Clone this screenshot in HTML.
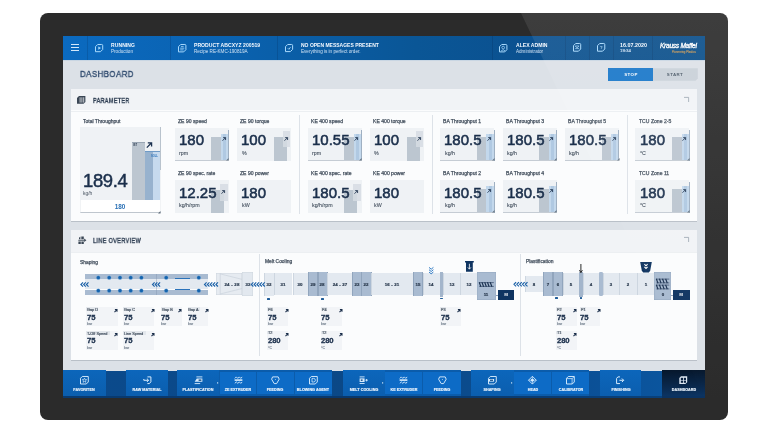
<!DOCTYPE html><html><head><meta charset="utf-8"><title>Dashboard</title><style>
html,body{margin:0;padding:0;background:#fff;width:768px;height:432px;overflow:hidden}
body{position:relative;font-family:"Liberation Sans",sans-serif}
.t{position:absolute;line-height:1;white-space:nowrap;will-change:transform}
.r{position:absolute}
.s{position:absolute;overflow:visible;will-change:transform}
</style></head><body>
<div class="r" style="left:40.00px;top:13.00px;width:688.00px;height:407.00px;background:#2b2b2b;border-radius:8px;"></div>
<div class="r" style="left:63.00px;top:35.60px;width:642.40px;height:362.40px;background:#dce1e7;"></div>
<div class="r" style="left:63.00px;top:35.60px;width:642.40px;height:24.00px;background:linear-gradient(90deg,#0b6ac0 0%,#0a62b0 25%,#0a5696 55%,#0b5190 72%,#0b4f8a 100%);"></div>
<div class="r" style="left:63.00px;top:59.60px;width:642.40px;height:0.80px;background:#c9d6e3;"></div>
<div class="r" style="left:86.60px;top:35.60px;width:0.80px;height:24.00px;background:rgba(0,25,60,0.16);"></div>
<div class="r" style="left:169.60px;top:35.60px;width:0.80px;height:24.00px;background:rgba(0,25,60,0.16);"></div>
<div class="r" style="left:276.80px;top:35.60px;width:0.80px;height:24.00px;background:rgba(0,25,60,0.16);"></div>
<div class="r" style="left:491.60px;top:35.60px;width:0.80px;height:24.00px;background:rgba(0,25,60,0.16);"></div>
<div class="r" style="left:565.40px;top:35.60px;width:0.80px;height:24.00px;background:rgba(0,25,60,0.16);"></div>
<div class="r" style="left:588.80px;top:35.60px;width:0.80px;height:24.00px;background:rgba(0,25,60,0.16);"></div>
<div class="r" style="left:612.70px;top:35.60px;width:0.80px;height:24.00px;background:rgba(0,25,60,0.16);"></div>
<div class="r" style="left:652.40px;top:35.60px;width:0.80px;height:24.00px;background:rgba(0,25,60,0.16);"></div>
<div class="r" style="left:70.70px;top:44.05px;width:8.10px;height:0.90px;background:#d3e8fa;"></div>
<div class="r" style="left:70.70px;top:47.05px;width:8.10px;height:0.90px;background:#d3e8fa;"></div>
<div class="r" style="left:70.70px;top:50.05px;width:8.10px;height:0.90px;background:#d3e8fa;"></div>
<svg class="s" style="left:94.80px;top:43.90px;" width="8.2" height="8.2" viewBox="0 0 8.2 8.2"><path d="M2.7,0.5 H6.699999999999999 Q7.699999999999999,0.5 7.699999999999999,1.5 V5.499999999999999 L5.499999999999999,7.699999999999999 H0.5 V2.7 Z" fill="none" stroke="#a9dafd" stroke-width="1.0" stroke-linejoin="miter"/><path d="M3.3,2.4 L6.0,4.1 L3.3,5.8 Z" fill="#a9dafd"/></svg>
<div class="t" style="left:111.30px;top:43.00px;font-size:5.0px;color:#f4f9ff;font-weight:700;letter-spacing:0.1px;">RUNNING</div>
<div class="t" style="left:111.30px;top:50.00px;font-size:4.6px;color:#cfe2f4;font-weight:400;">Production</div>
<svg class="s" style="left:178.10px;top:43.90px;" width="8.4" height="8.4" viewBox="0 0 8.4 8.4"><path d="M2.7,0.5 H6.9 Q7.9,0.5 7.9,1.5 V5.7 L5.7,7.9 H0.5 V2.7 Z" fill="none" stroke="#a9dafd" stroke-width="1.0" stroke-linejoin="miter"/><path d="M3,2.6 H5.6 M2.2,4.2 H6.3 M2.2,5.9 H5.6" stroke="#a9dafd" stroke-width="0.8"/></svg>
<div class="t" style="left:194.40px;top:43.00px;font-size:5.1px;color:#f4f9ff;font-weight:700;letter-spacing:0.02px;">PRODUCT ABCXYZ 200519</div>
<div class="t" style="left:194.40px;top:50.00px;font-size:4.6px;color:#cfe2f4;font-weight:400;">Recipe RE-KMC-190819A</div>
<svg class="s" style="left:285.10px;top:43.90px;" width="8.1" height="8.1" viewBox="0 0 8.1 8.1"><path d="M2.7,0.5 H6.6 Q7.6,0.5 7.6,1.5 V5.3999999999999995 L5.3999999999999995,7.6 H0.5 V2.7 Z" fill="none" stroke="#a9dafd" stroke-width="1.0" stroke-linejoin="miter"/><path d="M2.9,4.3 L3.9,5.3 L5.5,3.2" stroke="#a9dafd" stroke-width="0.9" fill="none"/></svg>
<div class="t" style="left:301.00px;top:43.00px;font-size:5.0px;color:#f4f9ff;font-weight:700;">NO OPEN MESSAGES PRESENT</div>
<div class="t" style="left:301.00px;top:50.00px;font-size:4.6px;color:#cfe2f4;font-weight:400;">Everything is in perfect order.</div>
<svg class="s" style="left:498.90px;top:43.70px;" width="8.4" height="8.4" viewBox="0 0 8.4 8.4"><path d="M2.7,0.5 H6.9 Q7.9,0.5 7.9,1.5 V5.7 L5.7,7.9 H0.5 V2.7 Z" fill="none" stroke="#a9dafd" stroke-width="1.0" stroke-linejoin="miter"/><circle cx="4.2" cy="3.6" r="1.35" fill="none" stroke="#a9dafd" stroke-width="0.75"/><path d="M2.1,6.9 Q4.2,4.7 6.3,6.9" fill="none" stroke="#a9dafd" stroke-width="0.75"/></svg>
<div class="t" style="left:515.60px;top:43.00px;font-size:5.1px;color:#f4f9ff;font-weight:700;">ALEX ADMIN</div>
<div class="t" style="left:515.60px;top:50.00px;font-size:4.6px;color:#cfe2f4;font-weight:400;">Administrator</div>
<svg class="s" style="left:572.90px;top:43.30px;" width="8.2" height="8.7" viewBox="0 0 8.2 8.7"><path d="M2.7,0.5 H6.699999999999999 Q7.699999999999999,0.5 7.699999999999999,1.5 V5.999999999999999 L5.499999999999999,8.2 H0.5 V2.7 Z" fill="none" stroke="#a9dafd" stroke-width="1.0" stroke-linejoin="miter"/><path d="M2.2,3 L4.1,5 L6,3 M2.2,5.6 H6 M2.2,3 H6" fill="none" stroke="#a9dafd" stroke-width="0.7"/></svg>
<svg class="s" style="left:596.90px;top:43.30px;" width="8.3" height="8.7" viewBox="0 0 8.3 8.7"><path d="M2.7,0.5 H6.800000000000001 Q7.800000000000001,0.5 7.800000000000001,1.5 V5.999999999999999 L5.6000000000000005,8.2 H0.5 V2.7 Z" fill="none" stroke="#a9dafd" stroke-width="1.0" stroke-linejoin="miter"/><text x="4.2" y="6.2" font-size="4.3" fill="#a9dafd" text-anchor="middle" font-family="Liberation Sans" font-weight="700">?</text></svg>
<div class="t" style="left:619.80px;top:43.00px;font-size:5.4px;color:#f4f9ff;font-weight:700;">16.07.2020</div>
<div class="t" style="left:619.80px;top:49.00px;font-size:4.4px;color:#cfe2f4;font-weight:400;-webkit-text-stroke:0.1px #cfe2f4;">19:34</div>
<div class="t" style="left:660.40px;top:43.00px;font-size:6.6px;color:#ffffff;font-weight:400;font-style:italic;letter-spacing:-0.28px;-webkit-text-stroke:0.3px #ffffff;">Krauss Maffei</div>
<div class="t" style="left:672.30px;top:51.00px;font-size:2.8px;color:#b8925a;font-weight:400;-webkit-text-stroke:0.15px #b8925a;">Pioneering Plastics</div>
<div class="t" style="left:80.00px;top:70.00px;font-size:8.9px;color:#2f4a6e;font-weight:400;transform:scaleX(0.9) ;transform-origin:0 0;letter-spacing:0.4px;-webkit-text-stroke:0.35px #2f4a6e;">DASHBOARD</div>
<div class="r" style="left:608.30px;top:68.20px;width:44.70px;height:12.50px;background:#1977c9;"></div>
<div class="t" style="left:630.60px;top:73.00px;font-size:4.4px;color:#ffffff;font-weight:700;transform:translateX(-50%);transform-origin:0 0;letter-spacing:0.4px;">STOP</div>
<div class="r" style="left:653px;top:68.2px;width:44.8px;height:12.5px;background:#c9d0d8;clip-path:polygon(0 0,100% 0,100% 82%,calc(100% - 2.2px) 100%,0 100%);"></div>
<div class="t" style="left:675.40px;top:73.00px;font-size:4.4px;color:#4a5866;font-weight:700;transform:translateX(-50%);transform-origin:0 0;letter-spacing:0.4px;">START</div>
<div class="r" style="left:70.90px;top:89.10px;width:626.10px;height:131.90px;background:#fbfcfd;"></div>
<div class="r" style="left:70.90px;top:220.60px;width:626.10px;height:1.00px;background:#b9c0c8;"></div>
<div class="r" style="left:70.90px;top:89.10px;width:626.10px;height:21.40px;background:#f1f3f6;"></div>
<div class="r" style="left:70.90px;top:110.50px;width:626.10px;height:0.60px;background:#eceff2;"></div>
<div class="t" style="left:92.80px;top:98.00px;font-size:6.6px;color:#2b3b50;font-weight:400;transform:scaleX(0.84) ;transform-origin:0 0;letter-spacing:0.35px;-webkit-text-stroke:0.35px #2b3b50;">PARAMETER</div>
<svg class="s" style="left:77.40px;top:96.00px;" width="8.4" height="7.8" viewBox="0 0 8.4 7.8"><path d="M2,0 H8.4 V5.9 L6.5,7.8 H0 V2 Z" fill="#3a4655"/><path d="M3.1,1.3 V6.6 M4.9,1.3 V6.6 M6.7,1.3 V6.6" stroke="#f4f6f8" stroke-width="0.75"/></svg>
<svg class="s" style="left:684.00px;top:97.40px;" width="5" height="5" viewBox="0 0 5 5"><path d="M0,0.4 H4.6 V5" fill="none" stroke="#8a96a3" stroke-width="0.7"/></svg>
<div class="r" style="left:299.25px;top:115.00px;width:0.70px;height:98.50px;background:#dde2e8;"></div>
<div class="r" style="left:432.05px;top:115.00px;width:0.70px;height:98.50px;background:#dde2e8;"></div>
<div class="r" style="left:626.55px;top:115.00px;width:0.70px;height:98.50px;background:#dde2e8;"></div>
<div class="t" style="left:83.20px;top:119.00px;font-size:5.0px;color:#434f5d;font-weight:400;-webkit-text-stroke:0.25px #434f5d;">Total Throughput</div>
<div class="r" style="left:79.60px;top:127.20px;width:81.10px;height:72.80px;background:#eff2f5;"></div>
<div class="r" style="left:79.60px;top:200.00px;width:81.10px;height:13.40px;background:#ffffff;box-shadow:inset 0.5px 0 0 #e3e7ec,inset -0.5px 0 0 #e3e7ec,inset 0 -0.9px 0 #bfc6ce;"></div>
<div class="r" style="left:131.60px;top:141.60px;width:13.30px;height:58.40px;background:#bcc6d0;border-top:0.7px solid #98a5b3;box-sizing:border-box;"></div>
<div class="r" style="left:144.90px;top:151.70px;width:8.50px;height:48.30px;background:#97b2ce;"></div>
<div class="r" style="left:153.40px;top:151.70px;width:7.00px;height:48.30px;background:#c6daee;"></div>
<div class="r" style="left:144.90px;top:151.40px;width:15.80px;height:0.70px;background:#6e9ac6;"></div>
<div class="r" style="left:160.20px;top:127.20px;width:0.60px;height:42.80px;background:#b9c3cd;"></div>
<div class="t" style="left:133.00px;top:145.00px;font-size:2.6px;color:#2b3b50;font-weight:700;">IST</div>
<div class="t" style="left:151.20px;top:156.00px;font-size:2.6px;color:#2f75bb;font-weight:700;">SOLL</div>
<svg class="s" style="left:146.40px;top:141.90px;" width="6.6" height="6.3" viewBox="0 0 6.6 6.3"><path d="M0.8,5.6 L5.6,0.8 M1.8,0.8 H5.6 V4.6" fill="none" stroke="#1b3150" stroke-width="1.3"/></svg>
<div class="t" style="left:82.70px;top:172.00px;font-size:18.4px;color:#1b2f4b;font-weight:400;letter-spacing:-0.3px;-webkit-text-stroke:0.5px #1b2f4b;">189.4</div>
<div class="t" style="left:82.90px;top:192.00px;font-size:4.9px;color:#434f5d;font-weight:400;">kg/h</div>
<div class="t" style="left:120.30px;top:204.00px;font-size:6.4px;color:#2a70b5;font-weight:700;transform:translateX(-50%);transform-origin:0 0;">180</div>
<svg class="s" style="left:158.20px;top:210.80px;" width="2.5" height="2.5" viewBox="0 0 2.5 2.5"><path d="M2.5,0 V2.5 H0 Z" fill="#5d6a78"/></svg>
<div class="t" style="left:177.90px;top:119.00px;font-size:5.1px;color:#434f5d;font-weight:400;-webkit-text-stroke:0.25px #434f5d;">ZE 90 speed</div>
<div class="r" style="left:174.60px;top:127.60px;width:54.20px;height:33.10px;background:#eff2f5;"></div>
<div class="r" style="left:211.30px;top:137.10px;width:9.50px;height:23.60px;background:#bcc6d0;"></div>
<div class="r" style="left:220.80px;top:133.80px;width:7.30px;height:26.90px;background:#c3d8ec;"></div>
<div class="r" style="left:223.10px;top:133.80px;width:3.00px;height:26.90px;background:rgba(140,175,210,0.35);"></div>
<div class="r" style="left:228.10px;top:129.60px;width:0.70px;height:31.10px;background:#9fb0c2;"></div>
<div class="r" style="left:174.60px;top:159.90px;width:54.20px;height:0.80px;background:#c5ccd4;"></div>
<svg class="s" style="left:226.20px;top:158.10px;" width="2.6" height="2.6" viewBox="0 0 2.6 2.6"><path d="M2.6,0 V2.6 H0 Z" fill="#6a7886"/></svg>
<svg class="s" style="left:221.50px;top:136.90px;" width="4.2" height="4.2" viewBox="0 0 4.2 4.2"><path d="M0.5,3.70 L3.50,0.7 M1.16,0.6 H3.60 V3.04" fill="none" stroke="#1b2f4b" stroke-width="0.85" stroke-linejoin="miter"/></svg>
<div class="t" style="left:178.90px;top:132.00px;font-size:15px;color:#1b2f4b;font-weight:400;-webkit-text-stroke:0.55px #1b2f4b;">180</div>
<div class="t" style="left:179.00px;top:151.00px;font-size:5.3px;color:#434f5d;font-weight:400;-webkit-text-stroke:0.1px #434f5d;">rpm</div>
<div class="t" style="left:240.40px;top:119.00px;font-size:5.1px;color:#434f5d;font-weight:400;-webkit-text-stroke:0.25px #434f5d;">ZE 90 torque</div>
<div class="r" style="left:237.10px;top:127.60px;width:54.20px;height:33.10px;background:#eff2f5;"></div>
<div class="r" style="left:274.10px;top:137.10px;width:12.70px;height:23.60px;background:#bcc6d0;"></div>
<div class="r" style="left:283.30px;top:131.20px;width:7.00px;height:16.30px;background:rgba(214,220,227,0.85);"></div>
<svg class="s" style="left:284.00px;top:136.90px;" width="4.2" height="4.2" viewBox="0 0 4.2 4.2"><path d="M0.5,3.70 L3.50,0.7 M1.16,0.6 H3.60 V3.04" fill="none" stroke="#1b2f4b" stroke-width="0.85" stroke-linejoin="miter"/></svg>
<div class="t" style="left:241.40px;top:132.00px;font-size:15px;color:#1b2f4b;font-weight:400;-webkit-text-stroke:0.55px #1b2f4b;">100</div>
<div class="t" style="left:241.50px;top:151.00px;font-size:5.3px;color:#434f5d;font-weight:400;-webkit-text-stroke:0.1px #434f5d;">%</div>
<div class="t" style="left:177.90px;top:171.00px;font-size:5.1px;color:#434f5d;font-weight:400;-webkit-text-stroke:0.25px #434f5d;">ZE 90 spec. rate</div>
<div class="r" style="left:174.60px;top:179.90px;width:54.20px;height:33.10px;background:#eff2f5;"></div>
<div class="r" style="left:210.80px;top:190.20px;width:13.20px;height:22.80px;background:#bcc6d0;"></div>
<div class="r" style="left:220.10px;top:183.90px;width:7.70px;height:16.70px;background:rgba(214,220,227,0.85);"></div>
<svg class="s" style="left:221.10px;top:190.00px;" width="4.2" height="4.2" viewBox="0 0 4.2 4.2"><path d="M0.5,3.70 L3.50,0.7 M1.16,0.6 H3.60 V3.04" fill="none" stroke="#1b2f4b" stroke-width="0.85" stroke-linejoin="miter"/></svg>
<div class="t" style="left:178.90px;top:185.00px;font-size:15px;color:#1b2f4b;font-weight:400;-webkit-text-stroke:0.55px #1b2f4b;">12.25</div>
<div class="t" style="left:179.00px;top:203.00px;font-size:5.3px;color:#434f5d;font-weight:400;-webkit-text-stroke:0.1px #434f5d;">kg/h/rpm</div>
<div class="t" style="left:240.40px;top:171.00px;font-size:5.1px;color:#434f5d;font-weight:400;-webkit-text-stroke:0.25px #434f5d;">ZE 90 power</div>
<div class="r" style="left:237.10px;top:179.90px;width:54.20px;height:33.10px;background:#eff2f5;"></div>
<div class="t" style="left:241.40px;top:185.00px;font-size:15px;color:#1b2f4b;font-weight:400;-webkit-text-stroke:0.55px #1b2f4b;">180</div>
<div class="t" style="left:241.50px;top:203.00px;font-size:5.3px;color:#434f5d;font-weight:400;-webkit-text-stroke:0.1px #434f5d;">kW</div>
<div class="t" style="left:310.80px;top:119.00px;font-size:5.1px;color:#434f5d;font-weight:400;-webkit-text-stroke:0.25px #434f5d;">KE 400 speed</div>
<div class="r" style="left:307.50px;top:127.60px;width:54.20px;height:33.10px;background:#eff2f5;"></div>
<div class="r" style="left:344.20px;top:137.10px;width:9.50px;height:23.60px;background:#bcc6d0;"></div>
<div class="r" style="left:353.70px;top:133.80px;width:7.30px;height:26.90px;background:#c3d8ec;"></div>
<div class="r" style="left:356.00px;top:133.80px;width:3.00px;height:26.90px;background:rgba(140,175,210,0.35);"></div>
<div class="r" style="left:361.00px;top:129.60px;width:0.70px;height:31.10px;background:#9fb0c2;"></div>
<div class="r" style="left:307.50px;top:159.90px;width:54.20px;height:0.80px;background:#c5ccd4;"></div>
<svg class="s" style="left:359.10px;top:158.10px;" width="2.6" height="2.6" viewBox="0 0 2.6 2.6"><path d="M2.6,0 V2.6 H0 Z" fill="#6a7886"/></svg>
<svg class="s" style="left:354.40px;top:136.90px;" width="4.2" height="4.2" viewBox="0 0 4.2 4.2"><path d="M0.5,3.70 L3.50,0.7 M1.16,0.6 H3.60 V3.04" fill="none" stroke="#1b2f4b" stroke-width="0.85" stroke-linejoin="miter"/></svg>
<div class="t" style="left:311.80px;top:132.00px;font-size:15px;color:#1b2f4b;font-weight:400;-webkit-text-stroke:0.55px #1b2f4b;">10.55</div>
<div class="t" style="left:311.90px;top:151.00px;font-size:5.3px;color:#434f5d;font-weight:400;-webkit-text-stroke:0.1px #434f5d;">rpm</div>
<div class="t" style="left:373.20px;top:119.00px;font-size:5.1px;color:#434f5d;font-weight:400;-webkit-text-stroke:0.25px #434f5d;">KE 400 torque</div>
<div class="r" style="left:369.90px;top:127.60px;width:54.20px;height:33.10px;background:#eff2f5;"></div>
<div class="r" style="left:406.90px;top:137.10px;width:12.70px;height:23.60px;background:#bcc6d0;"></div>
<div class="r" style="left:416.10px;top:131.20px;width:7.00px;height:16.30px;background:rgba(214,220,227,0.85);"></div>
<svg class="s" style="left:416.80px;top:136.90px;" width="4.2" height="4.2" viewBox="0 0 4.2 4.2"><path d="M0.5,3.70 L3.50,0.7 M1.16,0.6 H3.60 V3.04" fill="none" stroke="#1b2f4b" stroke-width="0.85" stroke-linejoin="miter"/></svg>
<div class="t" style="left:374.20px;top:132.00px;font-size:15px;color:#1b2f4b;font-weight:400;-webkit-text-stroke:0.55px #1b2f4b;">100</div>
<div class="t" style="left:374.30px;top:151.00px;font-size:5.3px;color:#434f5d;font-weight:400;-webkit-text-stroke:0.1px #434f5d;">%</div>
<div class="t" style="left:310.80px;top:171.00px;font-size:5.1px;color:#434f5d;font-weight:400;-webkit-text-stroke:0.25px #434f5d;">KE 400 spec. rate</div>
<div class="r" style="left:307.50px;top:179.90px;width:54.20px;height:33.10px;background:#eff2f5;"></div>
<div class="r" style="left:343.70px;top:190.20px;width:13.20px;height:22.80px;background:#bcc6d0;"></div>
<div class="r" style="left:353.00px;top:183.90px;width:7.70px;height:16.70px;background:rgba(214,220,227,0.85);"></div>
<svg class="s" style="left:354.00px;top:190.00px;" width="4.2" height="4.2" viewBox="0 0 4.2 4.2"><path d="M0.5,3.70 L3.50,0.7 M1.16,0.6 H3.60 V3.04" fill="none" stroke="#1b2f4b" stroke-width="0.85" stroke-linejoin="miter"/></svg>
<div class="t" style="left:311.80px;top:185.00px;font-size:15px;color:#1b2f4b;font-weight:400;-webkit-text-stroke:0.55px #1b2f4b;">180.5</div>
<div class="t" style="left:311.90px;top:203.00px;font-size:5.3px;color:#434f5d;font-weight:400;-webkit-text-stroke:0.1px #434f5d;">kg/h/rpm</div>
<div class="t" style="left:373.20px;top:171.00px;font-size:5.1px;color:#434f5d;font-weight:400;-webkit-text-stroke:0.25px #434f5d;">KE 400 power</div>
<div class="r" style="left:369.90px;top:179.90px;width:54.20px;height:33.10px;background:#eff2f5;"></div>
<div class="t" style="left:374.20px;top:185.00px;font-size:15px;color:#1b2f4b;font-weight:400;-webkit-text-stroke:0.55px #1b2f4b;">180</div>
<div class="t" style="left:374.30px;top:203.00px;font-size:5.3px;color:#434f5d;font-weight:400;-webkit-text-stroke:0.1px #434f5d;">kW</div>
<div class="t" style="left:443.40px;top:119.00px;font-size:5.1px;color:#434f5d;font-weight:400;-webkit-text-stroke:0.25px #434f5d;">BA Throughput 1</div>
<div class="r" style="left:440.10px;top:127.60px;width:54.20px;height:33.10px;background:#eff2f5;"></div>
<div class="r" style="left:476.80px;top:137.10px;width:9.50px;height:23.60px;background:#bcc6d0;"></div>
<div class="r" style="left:486.30px;top:133.80px;width:7.30px;height:26.90px;background:#c3d8ec;"></div>
<div class="r" style="left:488.60px;top:133.80px;width:3.00px;height:26.90px;background:rgba(140,175,210,0.35);"></div>
<div class="r" style="left:493.60px;top:129.60px;width:0.70px;height:31.10px;background:#9fb0c2;"></div>
<div class="r" style="left:440.10px;top:159.90px;width:54.20px;height:0.80px;background:#c5ccd4;"></div>
<svg class="s" style="left:491.70px;top:158.10px;" width="2.6" height="2.6" viewBox="0 0 2.6 2.6"><path d="M2.6,0 V2.6 H0 Z" fill="#6a7886"/></svg>
<svg class="s" style="left:487.00px;top:136.90px;" width="4.2" height="4.2" viewBox="0 0 4.2 4.2"><path d="M0.5,3.70 L3.50,0.7 M1.16,0.6 H3.60 V3.04" fill="none" stroke="#1b2f4b" stroke-width="0.85" stroke-linejoin="miter"/></svg>
<div class="t" style="left:444.40px;top:132.00px;font-size:15px;color:#1b2f4b;font-weight:400;-webkit-text-stroke:0.55px #1b2f4b;">180.5</div>
<div class="t" style="left:444.50px;top:151.00px;font-size:5.3px;color:#434f5d;font-weight:400;-webkit-text-stroke:0.1px #434f5d;">kg/h</div>
<div class="t" style="left:505.80px;top:119.00px;font-size:5.1px;color:#434f5d;font-weight:400;-webkit-text-stroke:0.25px #434f5d;">BA Throughput 3</div>
<div class="r" style="left:502.50px;top:127.60px;width:54.20px;height:33.10px;background:#eff2f5;"></div>
<div class="r" style="left:539.20px;top:137.10px;width:9.50px;height:23.60px;background:#bcc6d0;"></div>
<div class="r" style="left:548.70px;top:133.80px;width:7.30px;height:26.90px;background:#c3d8ec;"></div>
<div class="r" style="left:551.00px;top:133.80px;width:3.00px;height:26.90px;background:rgba(140,175,210,0.35);"></div>
<div class="r" style="left:556.00px;top:129.60px;width:0.70px;height:31.10px;background:#9fb0c2;"></div>
<div class="r" style="left:502.50px;top:159.90px;width:54.20px;height:0.80px;background:#c5ccd4;"></div>
<svg class="s" style="left:554.10px;top:158.10px;" width="2.6" height="2.6" viewBox="0 0 2.6 2.6"><path d="M2.6,0 V2.6 H0 Z" fill="#6a7886"/></svg>
<svg class="s" style="left:549.40px;top:136.90px;" width="4.2" height="4.2" viewBox="0 0 4.2 4.2"><path d="M0.5,3.70 L3.50,0.7 M1.16,0.6 H3.60 V3.04" fill="none" stroke="#1b2f4b" stroke-width="0.85" stroke-linejoin="miter"/></svg>
<div class="t" style="left:506.80px;top:132.00px;font-size:15px;color:#1b2f4b;font-weight:400;-webkit-text-stroke:0.55px #1b2f4b;">180.5</div>
<div class="t" style="left:506.90px;top:151.00px;font-size:5.3px;color:#434f5d;font-weight:400;-webkit-text-stroke:0.1px #434f5d;">kg/h</div>
<div class="t" style="left:568.20px;top:119.00px;font-size:5.1px;color:#434f5d;font-weight:400;-webkit-text-stroke:0.25px #434f5d;">BA Throughput 5</div>
<div class="r" style="left:564.90px;top:127.60px;width:54.20px;height:33.10px;background:#eff2f5;"></div>
<div class="r" style="left:601.60px;top:137.10px;width:9.50px;height:23.60px;background:#bcc6d0;"></div>
<div class="r" style="left:611.10px;top:133.80px;width:7.30px;height:26.90px;background:#c3d8ec;"></div>
<div class="r" style="left:613.40px;top:133.80px;width:3.00px;height:26.90px;background:rgba(140,175,210,0.35);"></div>
<div class="r" style="left:618.40px;top:129.60px;width:0.70px;height:31.10px;background:#9fb0c2;"></div>
<div class="r" style="left:564.90px;top:159.90px;width:54.20px;height:0.80px;background:#c5ccd4;"></div>
<svg class="s" style="left:616.50px;top:158.10px;" width="2.6" height="2.6" viewBox="0 0 2.6 2.6"><path d="M2.6,0 V2.6 H0 Z" fill="#6a7886"/></svg>
<svg class="s" style="left:611.80px;top:136.90px;" width="4.2" height="4.2" viewBox="0 0 4.2 4.2"><path d="M0.5,3.70 L3.50,0.7 M1.16,0.6 H3.60 V3.04" fill="none" stroke="#1b2f4b" stroke-width="0.85" stroke-linejoin="miter"/></svg>
<div class="t" style="left:569.20px;top:132.00px;font-size:15px;color:#1b2f4b;font-weight:400;-webkit-text-stroke:0.55px #1b2f4b;">180.5</div>
<div class="t" style="left:569.30px;top:151.00px;font-size:5.3px;color:#434f5d;font-weight:400;-webkit-text-stroke:0.1px #434f5d;">kg/h</div>
<div class="t" style="left:443.40px;top:171.00px;font-size:5.1px;color:#434f5d;font-weight:400;-webkit-text-stroke:0.25px #434f5d;">BA Throughput 2</div>
<div class="r" style="left:440.10px;top:179.90px;width:54.20px;height:33.10px;background:#eff2f5;"></div>
<div class="r" style="left:476.80px;top:189.40px;width:9.50px;height:23.60px;background:#bcc6d0;"></div>
<div class="r" style="left:486.30px;top:186.10px;width:7.30px;height:26.90px;background:#c3d8ec;"></div>
<div class="r" style="left:488.60px;top:186.10px;width:3.00px;height:26.90px;background:rgba(140,175,210,0.35);"></div>
<div class="r" style="left:493.60px;top:181.90px;width:0.70px;height:31.10px;background:#9fb0c2;"></div>
<div class="r" style="left:440.10px;top:212.20px;width:54.20px;height:0.80px;background:#c5ccd4;"></div>
<svg class="s" style="left:491.70px;top:210.40px;" width="2.6" height="2.6" viewBox="0 0 2.6 2.6"><path d="M2.6,0 V2.6 H0 Z" fill="#6a7886"/></svg>
<svg class="s" style="left:487.00px;top:189.20px;" width="4.2" height="4.2" viewBox="0 0 4.2 4.2"><path d="M0.5,3.70 L3.50,0.7 M1.16,0.6 H3.60 V3.04" fill="none" stroke="#1b2f4b" stroke-width="0.85" stroke-linejoin="miter"/></svg>
<div class="t" style="left:444.40px;top:185.00px;font-size:15px;color:#1b2f4b;font-weight:400;-webkit-text-stroke:0.55px #1b2f4b;">180.5</div>
<div class="t" style="left:444.50px;top:203.00px;font-size:5.3px;color:#434f5d;font-weight:400;-webkit-text-stroke:0.1px #434f5d;">kg/h</div>
<div class="t" style="left:505.80px;top:171.00px;font-size:5.1px;color:#434f5d;font-weight:400;-webkit-text-stroke:0.25px #434f5d;">BA Throughput 4</div>
<div class="r" style="left:502.50px;top:179.90px;width:54.20px;height:33.10px;background:#eff2f5;"></div>
<div class="r" style="left:539.20px;top:189.40px;width:9.50px;height:23.60px;background:#bcc6d0;"></div>
<div class="r" style="left:548.70px;top:186.10px;width:7.30px;height:26.90px;background:#c3d8ec;"></div>
<div class="r" style="left:551.00px;top:186.10px;width:3.00px;height:26.90px;background:rgba(140,175,210,0.35);"></div>
<div class="r" style="left:556.00px;top:181.90px;width:0.70px;height:31.10px;background:#9fb0c2;"></div>
<div class="r" style="left:502.50px;top:212.20px;width:54.20px;height:0.80px;background:#c5ccd4;"></div>
<svg class="s" style="left:554.10px;top:210.40px;" width="2.6" height="2.6" viewBox="0 0 2.6 2.6"><path d="M2.6,0 V2.6 H0 Z" fill="#6a7886"/></svg>
<svg class="s" style="left:549.40px;top:189.20px;" width="4.2" height="4.2" viewBox="0 0 4.2 4.2"><path d="M0.5,3.70 L3.50,0.7 M1.16,0.6 H3.60 V3.04" fill="none" stroke="#1b2f4b" stroke-width="0.85" stroke-linejoin="miter"/></svg>
<div class="t" style="left:506.80px;top:185.00px;font-size:15px;color:#1b2f4b;font-weight:400;-webkit-text-stroke:0.55px #1b2f4b;">180.5</div>
<div class="t" style="left:506.90px;top:203.00px;font-size:5.3px;color:#434f5d;font-weight:400;-webkit-text-stroke:0.1px #434f5d;">kg/h</div>
<div class="t" style="left:638.60px;top:119.00px;font-size:5.1px;color:#434f5d;font-weight:400;-webkit-text-stroke:0.25px #434f5d;">TCU Zone 2-5</div>
<div class="r" style="left:635.30px;top:127.60px;width:54.20px;height:33.10px;background:#eff2f5;"></div>
<div class="r" style="left:672.00px;top:137.10px;width:9.50px;height:23.60px;background:#bcc6d0;"></div>
<div class="r" style="left:681.50px;top:133.80px;width:7.30px;height:26.90px;background:#c3d8ec;"></div>
<div class="r" style="left:683.80px;top:133.80px;width:3.00px;height:26.90px;background:rgba(140,175,210,0.35);"></div>
<div class="r" style="left:688.80px;top:129.60px;width:0.70px;height:31.10px;background:#9fb0c2;"></div>
<div class="r" style="left:635.30px;top:159.90px;width:54.20px;height:0.80px;background:#c5ccd4;"></div>
<svg class="s" style="left:686.90px;top:158.10px;" width="2.6" height="2.6" viewBox="0 0 2.6 2.6"><path d="M2.6,0 V2.6 H0 Z" fill="#6a7886"/></svg>
<svg class="s" style="left:682.20px;top:136.90px;" width="4.2" height="4.2" viewBox="0 0 4.2 4.2"><path d="M0.5,3.70 L3.50,0.7 M1.16,0.6 H3.60 V3.04" fill="none" stroke="#1b2f4b" stroke-width="0.85" stroke-linejoin="miter"/></svg>
<div class="t" style="left:639.60px;top:132.00px;font-size:15px;color:#1b2f4b;font-weight:400;-webkit-text-stroke:0.55px #1b2f4b;">180</div>
<div class="t" style="left:639.70px;top:151.00px;font-size:5.3px;color:#434f5d;font-weight:400;-webkit-text-stroke:0.1px #434f5d;">°C</div>
<div class="t" style="left:638.60px;top:171.00px;font-size:5.1px;color:#434f5d;font-weight:400;-webkit-text-stroke:0.25px #434f5d;">TCU Zone 11</div>
<div class="r" style="left:635.30px;top:179.90px;width:54.20px;height:33.10px;background:#eff2f5;"></div>
<div class="r" style="left:672.00px;top:189.40px;width:9.50px;height:23.60px;background:#bcc6d0;"></div>
<div class="r" style="left:681.50px;top:186.10px;width:7.30px;height:26.90px;background:#c3d8ec;"></div>
<div class="r" style="left:683.80px;top:186.10px;width:3.00px;height:26.90px;background:rgba(140,175,210,0.35);"></div>
<div class="r" style="left:688.80px;top:181.90px;width:0.70px;height:31.10px;background:#9fb0c2;"></div>
<div class="r" style="left:635.30px;top:212.20px;width:54.20px;height:0.80px;background:#c5ccd4;"></div>
<svg class="s" style="left:686.90px;top:210.40px;" width="2.6" height="2.6" viewBox="0 0 2.6 2.6"><path d="M2.6,0 V2.6 H0 Z" fill="#6a7886"/></svg>
<svg class="s" style="left:682.20px;top:189.20px;" width="4.2" height="4.2" viewBox="0 0 4.2 4.2"><path d="M0.5,3.70 L3.50,0.7 M1.16,0.6 H3.60 V3.04" fill="none" stroke="#1b2f4b" stroke-width="0.85" stroke-linejoin="miter"/></svg>
<div class="t" style="left:639.60px;top:185.00px;font-size:15px;color:#1b2f4b;font-weight:400;-webkit-text-stroke:0.55px #1b2f4b;">180</div>
<div class="t" style="left:639.70px;top:203.00px;font-size:5.3px;color:#434f5d;font-weight:400;-webkit-text-stroke:0.1px #434f5d;">°C</div>
<div class="r" style="left:70.90px;top:229.50px;width:626.10px;height:131.30px;background:#fbfcfd;"></div>
<div class="r" style="left:70.90px;top:360.40px;width:626.10px;height:1.00px;background:#b9c0c8;"></div>
<div class="r" style="left:70.90px;top:229.50px;width:626.10px;height:22.00px;background:#f1f3f6;"></div>
<div class="r" style="left:70.90px;top:251.50px;width:626.10px;height:0.60px;background:#eceff2;"></div>
<div class="t" style="left:92.80px;top:238.00px;font-size:6.7px;color:#2b3b50;font-weight:400;transform:scaleX(0.84) ;transform-origin:0 0;letter-spacing:0.35px;-webkit-text-stroke:0.35px #2b3b50;">LINE OVERVIEW</div>
<svg class="s" style="left:77.60px;top:236.10px;" width="8.6" height="8.2" viewBox="0 0 8.6 8.2"><path d="M1,3.2 V1.8 L2.4,0.6 V3.2 Z M3.3,3.2 V0.4 H5.8 V3.2 Z" fill="#3a4655"/><path d="M0.3,4.3 H6.6" stroke="#3a4655" stroke-width="0.9"/><path d="M6.2,2.6 L8.4,4.3 L6.2,6 Z" fill="#3a4655"/><path d="M0.4,5.4 H2.8 V8 H0.4 Z M3.4,5.4 H5.8 V8 H3.4 Z" fill="#3a4655"/></svg>
<svg class="s" style="left:684.00px;top:237.40px;" width="5" height="5" viewBox="0 0 5 5"><path d="M0,0.4 H4.6 V5" fill="none" stroke="#8a96a3" stroke-width="0.7"/></svg>
<div class="r" style="left:259.15px;top:253.50px;width:0.70px;height:102.50px;background:#dde2e8;"></div>
<div class="r" style="left:520.05px;top:253.50px;width:0.70px;height:102.50px;background:#dde2e8;"></div>
<div class="t" style="left:79.70px;top:261.00px;font-size:4.9px;color:#434f5d;font-weight:400;-webkit-text-stroke:0.25px #434f5d;">Shaping</div>
<div class="t" style="left:265.00px;top:260.00px;font-size:4.9px;color:#434f5d;font-weight:400;-webkit-text-stroke:0.25px #434f5d;">Melt Cooling</div>
<div class="t" style="left:526.00px;top:260.00px;font-size:4.9px;color:#434f5d;font-weight:400;-webkit-text-stroke:0.25px #434f5d;">Plastification</div>
<div class="r" style="left:84.70px;top:273.60px;width:123.10px;height:5.20px;background:#a9bbd1;"></div>
<div class="r" style="left:84.70px;top:278.80px;width:123.10px;height:10.70px;background:#e3e9f0;"></div>
<div class="r" style="left:84.70px;top:289.50px;width:123.10px;height:5.20px;background:#a9bbd1;"></div>
<div class="r" style="left:155.70px;top:273.60px;width:0.60px;height:21.10px;background:rgba(120,140,165,0.35);"></div>
<svg class="s" style="left:0.00px;top:0.00px;" width="1" height="1" viewBox="0 0 1 1"><circle cx="98.3" cy="277.7" r="1.9" fill="#1463ad" stroke="rgba(120,180,235,0.5)" stroke-width="0.5"/><circle cx="98.3" cy="290.7" r="1.9" fill="#1463ad" stroke="rgba(120,180,235,0.5)" stroke-width="0.5"/><circle cx="109.2" cy="277.7" r="1.9" fill="#1463ad" stroke="rgba(120,180,235,0.5)" stroke-width="0.5"/><circle cx="109.2" cy="290.7" r="1.9" fill="#1463ad" stroke="rgba(120,180,235,0.5)" stroke-width="0.5"/><circle cx="120" cy="277.7" r="1.9" fill="#1463ad" stroke="rgba(120,180,235,0.5)" stroke-width="0.5"/><circle cx="120" cy="290.7" r="1.9" fill="#1463ad" stroke="rgba(120,180,235,0.5)" stroke-width="0.5"/><circle cx="130.7" cy="277.7" r="1.9" fill="#1463ad" stroke="rgba(120,180,235,0.5)" stroke-width="0.5"/><circle cx="130.7" cy="290.7" r="1.9" fill="#1463ad" stroke="rgba(120,180,235,0.5)" stroke-width="0.5"/><circle cx="141.4" cy="277.7" r="1.9" fill="#1463ad" stroke="rgba(120,180,235,0.5)" stroke-width="0.5"/><circle cx="141.4" cy="290.7" r="1.9" fill="#1463ad" stroke="rgba(120,180,235,0.5)" stroke-width="0.5"/><circle cx="166.2" cy="277.7" r="1.9" fill="#1463ad" stroke="rgba(120,180,235,0.5)" stroke-width="0.5"/><circle cx="166.2" cy="290.7" r="1.9" fill="#1463ad" stroke="rgba(120,180,235,0.5)" stroke-width="0.5"/><circle cx="198.8" cy="277.7" r="1.9" fill="#1463ad" stroke="rgba(120,180,235,0.5)" stroke-width="0.5"/><circle cx="198.8" cy="290.7" r="1.9" fill="#1463ad" stroke="rgba(120,180,235,0.5)" stroke-width="0.5"/></svg>
<div class="r" style="left:175.00px;top:278.00px;width:15.20px;height:1.40px;background:#2a72ba;"></div>
<div class="r" style="left:175.00px;top:288.90px;width:15.20px;height:1.40px;background:#2a72ba;"></div>
<svg class="s" style="left:0.00px;top:0.00px;" width="1" height="1" viewBox="0 0 1 1"><g transform="translate(0,284.5)"><path d="M83.00,-2.10 L80.90,0 L83.00,2.10 M85.75,-2.10 L83.65,0 L85.75,2.10 M88.50,-2.10 L86.40,0 L88.50,2.10 " fill="none" stroke="#1d62a8" stroke-width="1.15" stroke-linejoin="miter"/></g></svg>
<svg class="s" style="left:0.00px;top:0.00px;" width="1" height="1" viewBox="0 0 1 1"><g transform="translate(0,284.5)"><path d="M154.60,-2.10 L152.50,0 L154.60,2.10 M157.35,-2.10 L155.25,0 L157.35,2.10 M160.10,-2.10 L158.00,0 L160.10,2.10 " fill="none" stroke="#1d62a8" stroke-width="1.15" stroke-linejoin="miter"/></g></svg>
<div class="r" style="left:215.60px;top:273.00px;width:26.60px;height:21.90px;background:#e6ebf1;box-shadow:inset 0 0 0 0.5px #cdd5de;"></div>
<svg class="s" style="left:215.60px;top:273.00px;" width="26.6" height="21.9" viewBox="0 0 26.6 21.9"><path d="M4.2,0.4 V21.5 M4.2,0.9 L26.6,6.5 M4.2,21 L26.6,15.4" stroke="#c3ccd6" stroke-width="0.55" fill="none"/></svg>
<div class="t" style="left:231.60px;top:283.00px;font-size:4.4px;color:#2e3e52;font-weight:700;transform:translateX(-50%);transform-origin:0 0;letter-spacing:0.2px;-webkit-text-stroke:0.2px #2e3e52;">24 - 28</div>
<div class="r" style="left:242.20px;top:272.30px;width:10.60px;height:24.20px;background:#e2e8ef;box-shadow:inset 0 0 0 0.5px #cdd5de;"></div>
<div class="t" style="left:247.80px;top:283.00px;font-size:4.4px;color:#2e3e52;font-weight:700;transform:translateX(-50%);transform-origin:0 0;-webkit-text-stroke:0.2px #2e3e52;">33</div>
<div class="r" style="left:264.40px;top:272.60px;width:9.30px;height:23.00px;background:#e3e9f0;"></div>
<div class="r" style="left:264.40px;top:272.60px;width:0.50px;height:23.00px;background:#cdd6e0;"></div>
<div class="t" style="left:269.05px;top:283.00px;font-size:4.4px;color:#2a3a4e;font-weight:700;transform:translateX(-50%);transform-origin:0 0;letter-spacing:0.15px;-webkit-text-stroke:0.2px #2a3a4e;">32</div>
<div class="r" style="left:273.70px;top:273.30px;width:18.80px;height:21.80px;background:#e3e9f0;"></div>
<div class="r" style="left:273.70px;top:273.30px;width:0.50px;height:21.80px;background:#cdd6e0;"></div>
<div class="t" style="left:283.10px;top:283.00px;font-size:4.4px;color:#2a3a4e;font-weight:700;transform:translateX(-50%);transform-origin:0 0;letter-spacing:0.15px;-webkit-text-stroke:0.2px #2a3a4e;">31</div>
<div class="r" style="left:292.50px;top:273.30px;width:15.60px;height:21.80px;background:#e3e9f0;"></div>
<div class="r" style="left:292.50px;top:273.30px;width:0.50px;height:21.80px;background:#cdd6e0;"></div>
<div class="t" style="left:300.30px;top:283.00px;font-size:4.4px;color:#2a3a4e;font-weight:700;transform:translateX(-50%);transform-origin:0 0;letter-spacing:0.15px;-webkit-text-stroke:0.2px #2a3a4e;">30</div>
<div class="r" style="left:308.10px;top:271.80px;width:9.40px;height:24.40px;background:#a9bbd1;"></div>
<div class="r" style="left:308.10px;top:271.80px;width:0.50px;height:24.40px;background:#91a5bd;"></div>
<div class="r" style="left:317.00px;top:271.80px;width:0.50px;height:24.40px;background:#91a5bd;"></div>
<div class="t" style="left:312.80px;top:283.00px;font-size:4.4px;color:#2a3a4e;font-weight:700;transform:translateX(-50%);transform-origin:0 0;letter-spacing:0.15px;-webkit-text-stroke:0.2px #2a3a4e;">29</div>
<div class="r" style="left:317.50px;top:271.80px;width:9.80px;height:24.40px;background:#a9bbd1;"></div>
<div class="r" style="left:317.50px;top:271.80px;width:0.50px;height:24.40px;background:#91a5bd;"></div>
<div class="r" style="left:326.80px;top:271.80px;width:0.50px;height:24.40px;background:#91a5bd;"></div>
<div class="t" style="left:322.40px;top:283.00px;font-size:4.4px;color:#2a3a4e;font-weight:700;transform:translateX(-50%);transform-origin:0 0;letter-spacing:0.15px;-webkit-text-stroke:0.2px #2a3a4e;">28</div>
<div class="r" style="left:327.30px;top:273.30px;width:25.00px;height:21.80px;background:#e3e9f0;"></div>
<div class="r" style="left:327.30px;top:273.30px;width:0.50px;height:21.80px;background:#cdd6e0;"></div>
<div class="t" style="left:339.80px;top:283.00px;font-size:4.4px;color:#2a3a4e;font-weight:700;transform:translateX(-50%);transform-origin:0 0;letter-spacing:0.15px;-webkit-text-stroke:0.2px #2a3a4e;">24 - 27</div>
<div class="r" style="left:352.30px;top:271.80px;width:9.00px;height:24.40px;background:#a9bbd1;"></div>
<div class="r" style="left:352.30px;top:271.80px;width:0.50px;height:24.40px;background:#91a5bd;"></div>
<div class="r" style="left:360.80px;top:271.80px;width:0.50px;height:24.40px;background:#91a5bd;"></div>
<div class="t" style="left:356.80px;top:283.00px;font-size:4.4px;color:#2a3a4e;font-weight:700;transform:translateX(-50%);transform-origin:0 0;letter-spacing:0.15px;-webkit-text-stroke:0.2px #2a3a4e;">23</div>
<div class="r" style="left:361.30px;top:271.80px;width:9.70px;height:24.40px;background:#a9bbd1;"></div>
<div class="r" style="left:361.30px;top:271.80px;width:0.50px;height:24.40px;background:#91a5bd;"></div>
<div class="r" style="left:370.50px;top:271.80px;width:0.50px;height:24.40px;background:#91a5bd;"></div>
<div class="t" style="left:366.15px;top:283.00px;font-size:4.4px;color:#2a3a4e;font-weight:700;transform:translateX(-50%);transform-origin:0 0;letter-spacing:0.15px;-webkit-text-stroke:0.2px #2a3a4e;">22</div>
<div class="r" style="left:371.00px;top:273.30px;width:41.60px;height:21.80px;background:#e3e9f0;"></div>
<div class="r" style="left:371.00px;top:273.30px;width:0.50px;height:21.80px;background:#cdd6e0;"></div>
<div class="t" style="left:391.80px;top:283.00px;font-size:4.4px;color:#2a3a4e;font-weight:700;transform:translateX(-50%);transform-origin:0 0;letter-spacing:0.15px;-webkit-text-stroke:0.2px #2a3a4e;">16 - 21</div>
<div class="r" style="left:412.60px;top:271.80px;width:10.30px;height:24.40px;background:#a9bbd1;"></div>
<div class="r" style="left:412.60px;top:271.80px;width:0.50px;height:24.40px;background:#91a5bd;"></div>
<div class="r" style="left:422.40px;top:271.80px;width:0.50px;height:24.40px;background:#91a5bd;"></div>
<div class="t" style="left:417.75px;top:283.00px;font-size:4.4px;color:#2a3a4e;font-weight:700;transform:translateX(-50%);transform-origin:0 0;letter-spacing:0.15px;-webkit-text-stroke:0.2px #2a3a4e;">15</div>
<div class="r" style="left:422.90px;top:273.30px;width:16.90px;height:21.80px;background:#e3e9f0;"></div>
<div class="r" style="left:422.90px;top:273.30px;width:0.50px;height:21.80px;background:#cdd6e0;"></div>
<div class="t" style="left:431.35px;top:283.00px;font-size:4.4px;color:#2a3a4e;font-weight:700;transform:translateX(-50%);transform-origin:0 0;letter-spacing:0.15px;-webkit-text-stroke:0.2px #2a3a4e;">14</div>
<div class="r" style="left:439.80px;top:271.80px;width:3.10px;height:25.60px;background:#a3b5cb;"></div>
<div class="r" style="left:442.90px;top:273.30px;width:17.50px;height:21.80px;background:#e3e9f0;"></div>
<div class="r" style="left:442.90px;top:273.30px;width:0.50px;height:21.80px;background:#cdd6e0;"></div>
<div class="t" style="left:451.65px;top:283.00px;font-size:4.4px;color:#2a3a4e;font-weight:700;transform:translateX(-50%);transform-origin:0 0;letter-spacing:0.15px;-webkit-text-stroke:0.2px #2a3a4e;">13</div>
<div class="r" style="left:460.40px;top:273.30px;width:16.60px;height:21.80px;background:#e3e9f0;"></div>
<div class="r" style="left:460.40px;top:273.30px;width:0.50px;height:21.80px;background:#cdd6e0;"></div>
<div class="t" style="left:468.70px;top:283.00px;font-size:4.4px;color:#2a3a4e;font-weight:700;transform:translateX(-50%);transform-origin:0 0;letter-spacing:0.15px;-webkit-text-stroke:0.2px #2a3a4e;">12</div>
<div class="r" style="left:477.00px;top:272.20px;width:18.80px;height:28.10px;background:#a9bbd1;box-shadow:inset 0 0 0 0.4px #93a7bf;"></div>
<div class="t" style="left:486.40px;top:293.00px;font-size:4.4px;color:#2a3a4e;font-weight:700;transform:translateX(-50%);transform-origin:0 0;-webkit-text-stroke:0.2px #2a3a4e;">11</div>
<svg class="s" style="left:0.00px;top:0.00px;" width="1" height="1" viewBox="0 0 1 1"><path d="M479.20,282.30 L480.90,286.70 M481.95,282.30 L483.65,286.70 M484.70,282.30 L486.40,286.70 M487.45,282.30 L489.15,286.70 M490.20,282.30 L491.90,286.70 " stroke="#1b3150" stroke-width="1.15" fill="none"/><path d="M479.2,282.6 H493.8 M479.2,286.4 H493.8" stroke="#1b3150" stroke-width="0.6"/></svg>
<div class="r" style="left:495.80px;top:294.50px;width:2.50px;height:0.70px;background:#8b9db3;"></div>
<div class="r" style="left:498.30px;top:289.90px;width:15.90px;height:10.10px;background:#0f3461;"></div>
<div class="t" style="left:506.25px;top:293.00px;font-size:4.4px;color:#ffffff;font-weight:700;transform:translateX(-50%);transform-origin:0 0;">M</div>
<svg class="s" style="left:464.60px;top:261.40px;" width="8.8" height="10.8" viewBox="0 0 8.8 10.8"><path d="M0,0 H8.8 V1.6 H7.8 V10.8 H1 V1.6 H0 Z" fill="#0f3461"/><path d="M4.4,2.8 V8 M2.9,6.4 L4.4,8.2 L5.9,6.4" stroke="#fff" stroke-width="0.8" fill="none"/></svg>
<svg class="s" style="left:0.00px;top:0.00px;" width="1" height="1" viewBox="0 0 1 1"><path d="M429,267.40 L431.2,269.20 L433.4,267.40 M429,269.70 L431.2,271.50 L433.4,269.70 M429,272.00 L431.2,273.80 L433.4,272.00 " stroke="#1a6cbd" stroke-width="0.9" fill="none"/></svg>
<div class="r" style="left:267.40px;top:298.00px;width:2.80px;height:1.90px;background:#1f5c98;border-radius:0.5px;"></div>
<div class="r" style="left:321.30px;top:298.00px;width:2.70px;height:1.90px;background:#1f5c98;border-radius:0.5px;"></div>
<div class="r" style="left:440.00px;top:297.60px;width:2.90px;height:1.90px;background:#1f5c98;border-radius:0.5px;"></div>
<div class="r" style="left:555.00px;top:297.40px;width:3.00px;height:1.90px;background:#1f5c98;border-radius:0.5px;"></div>
<div class="r" style="left:579.80px;top:297.40px;width:2.70px;height:1.90px;background:#1f5c98;border-radius:0.5px;"></div>
<div class="r" style="left:525.00px;top:276.40px;width:18.30px;height:15.60px;background:#e3e9f0;"></div>
<div class="r" style="left:525.00px;top:276.40px;width:0.50px;height:15.60px;background:#cdd6e0;"></div>
<div class="t" style="left:534.15px;top:283.00px;font-size:4.4px;color:#2a3a4e;font-weight:700;transform:translateX(-50%);transform-origin:0 0;letter-spacing:0.15px;-webkit-text-stroke:0.2px #2a3a4e;">8</div>
<div class="r" style="left:543.30px;top:271.80px;width:9.60px;height:24.40px;background:#a9bbd1;"></div>
<div class="r" style="left:543.30px;top:271.80px;width:0.50px;height:24.40px;background:#91a5bd;"></div>
<div class="r" style="left:552.40px;top:271.80px;width:0.50px;height:24.40px;background:#91a5bd;"></div>
<div class="t" style="left:548.10px;top:283.00px;font-size:4.4px;color:#2a3a4e;font-weight:700;transform:translateX(-50%);transform-origin:0 0;letter-spacing:0.15px;-webkit-text-stroke:0.2px #2a3a4e;">7</div>
<div class="r" style="left:552.90px;top:271.80px;width:10.00px;height:24.40px;background:#a9bbd1;"></div>
<div class="r" style="left:552.90px;top:271.80px;width:0.50px;height:24.40px;background:#91a5bd;"></div>
<div class="r" style="left:562.40px;top:271.80px;width:0.50px;height:24.40px;background:#91a5bd;"></div>
<div class="t" style="left:557.90px;top:283.00px;font-size:4.4px;color:#2a3a4e;font-weight:700;transform:translateX(-50%);transform-origin:0 0;letter-spacing:0.15px;-webkit-text-stroke:0.2px #2a3a4e;">6</div>
<div class="r" style="left:562.90px;top:273.30px;width:16.10px;height:21.80px;background:#e3e9f0;"></div>
<div class="r" style="left:562.90px;top:273.30px;width:0.50px;height:21.80px;background:#cdd6e0;"></div>
<div class="t" style="left:570.95px;top:283.00px;font-size:4.4px;color:#2a3a4e;font-weight:700;transform:translateX(-50%);transform-origin:0 0;letter-spacing:0.15px;-webkit-text-stroke:0.2px #2a3a4e;">5</div>
<div class="r" style="left:579.00px;top:271.80px;width:4.10px;height:25.20px;background:#a3b5cb;"></div>
<svg class="s" style="left:579.20px;top:263.60px;" width="3.8" height="9.2" viewBox="0 0 3.8 9.2"><path d="M1.9,0 V8.4 M0.4,6.2 L1.9,8.6 L3.4,6.2" stroke="#111" stroke-width="0.9" fill="none"/></svg>
<div class="r" style="left:583.10px;top:273.30px;width:16.30px;height:21.80px;background:#e3e9f0;"></div>
<div class="r" style="left:583.10px;top:273.30px;width:0.50px;height:21.80px;background:#cdd6e0;"></div>
<div class="t" style="left:591.25px;top:283.00px;font-size:4.4px;color:#2a3a4e;font-weight:700;transform:translateX(-50%);transform-origin:0 0;letter-spacing:0.15px;-webkit-text-stroke:0.2px #2a3a4e;">4</div>
<div class="r" style="left:599.40px;top:272.20px;width:3.50px;height:24.00px;background:#a9bbd1;border-radius:1.2px;"></div>
<div class="r" style="left:602.90px;top:273.30px;width:16.30px;height:21.80px;background:#e3e9f0;"></div>
<div class="r" style="left:602.90px;top:273.30px;width:0.50px;height:21.80px;background:#cdd6e0;"></div>
<div class="t" style="left:611.05px;top:283.00px;font-size:4.4px;color:#2a3a4e;font-weight:700;transform:translateX(-50%);transform-origin:0 0;letter-spacing:0.15px;-webkit-text-stroke:0.2px #2a3a4e;">3</div>
<div class="r" style="left:619.20px;top:273.30px;width:17.70px;height:21.80px;background:#e3e9f0;"></div>
<div class="r" style="left:619.20px;top:273.30px;width:0.50px;height:21.80px;background:#cdd6e0;"></div>
<div class="t" style="left:628.05px;top:283.00px;font-size:4.4px;color:#2a3a4e;font-weight:700;transform:translateX(-50%);transform-origin:0 0;letter-spacing:0.15px;-webkit-text-stroke:0.2px #2a3a4e;">2</div>
<div class="r" style="left:636.90px;top:273.30px;width:17.30px;height:21.80px;background:#e3e9f0;"></div>
<div class="r" style="left:636.90px;top:273.30px;width:0.50px;height:21.80px;background:#cdd6e0;"></div>
<div class="t" style="left:645.55px;top:283.00px;font-size:4.4px;color:#2a3a4e;font-weight:700;transform:translateX(-50%);transform-origin:0 0;letter-spacing:0.15px;-webkit-text-stroke:0.2px #2a3a4e;">1</div>
<svg class="s" style="left:640.00px;top:261.80px;" width="12" height="10.4" viewBox="0 0 12 10.4"><path d="M0.2,0 H11.8 L10.2,8.8 L8.8,10.4 H3.2 L1.8,8.8 Z" fill="#0f3461"/><path d="M4.4,2.2 L6,3.8 L7.6,2.2 M4.4,4.9 L6,6.5 L7.6,4.9" stroke="#fff" stroke-width="1.05" fill="none"/></svg>
<div class="r" style="left:654.20px;top:272.20px;width:16.60px;height:28.10px;background:#a9bbd1;box-shadow:inset 0 0 0 0.4px #93a7bf;"></div>
<div class="t" style="left:662.50px;top:293.00px;font-size:4.4px;color:#2a3a4e;font-weight:700;transform:translateX(-50%);transform-origin:0 0;-webkit-text-stroke:0.2px #2a3a4e;">0</div>
<svg class="s" style="left:0.00px;top:0.00px;" width="1" height="1" viewBox="0 0 1 1"><path d="M656.30,278.80 L658.00,283.20 M659.40,278.80 L661.10,283.20 M662.50,278.80 L664.20,283.20 M665.60,278.80 L667.30,283.20 " stroke="#1b3150" stroke-width="1.15" fill="none"/><path d="M656.3,279.1 H669.3 M656.3,282.9 H669.3" stroke="#1b3150" stroke-width="0.6"/></svg>
<svg class="s" style="left:0.00px;top:0.00px;" width="1" height="1" viewBox="0 0 1 1"><path d="M656.30,284.80 L658.00,289.20 M659.40,284.80 L661.10,289.20 M662.50,284.80 L664.20,289.20 M665.60,284.80 L667.30,289.20 " stroke="#1b3150" stroke-width="1.15" fill="none"/><path d="M656.3,285.1 H669.3 M656.3,288.9 H669.3" stroke="#1b3150" stroke-width="0.6"/></svg>
<div class="r" style="left:670.80px;top:294.50px;width:2.50px;height:0.70px;background:#8b9db3;"></div>
<div class="r" style="left:673.30px;top:289.90px;width:16.30px;height:10.10px;background:#0f3461;"></div>
<div class="t" style="left:681.45px;top:293.00px;font-size:4.4px;color:#ffffff;font-weight:700;transform:translateX(-50%);transform-origin:0 0;">M</div>
<svg class="s" style="left:0.00px;top:0.00px;" width="1" height="1" viewBox="0 0 1 1"><g transform="translate(0,284.4)"><path d="M206.60,-2.10 L204.50,0 L206.60,2.10 M209.45,-2.10 L207.35,0 L209.45,2.10 M212.30,-2.10 L210.20,0 L212.30,2.10 M215.15,-2.10 L213.05,0 L215.15,2.10 M218.00,-2.10 L215.90,0 L218.00,2.10 " fill="none" stroke="#1d62a8" stroke-width="1.15" stroke-linejoin="miter"/></g></svg>
<svg class="s" style="left:0.00px;top:0.00px;" width="1" height="1" viewBox="0 0 1 1"><g transform="translate(0,284.4)"><path d="M253.40,-2.10 L251.30,0 L253.40,2.10 M256.25,-2.10 L254.15,0 L256.25,2.10 M259.10,-2.10 L257.00,0 L259.10,2.10 M261.95,-2.10 L259.85,0 L261.95,2.10 M264.80,-2.10 L262.70,0 L264.80,2.10 " fill="none" stroke="#1d62a8" stroke-width="1.15" stroke-linejoin="miter"/></g></svg>
<svg class="s" style="left:0.00px;top:0.00px;" width="1" height="1" viewBox="0 0 1 1"><g transform="translate(0,284.3)"><path d="M516.10,-2.10 L514.00,0 L516.10,2.10 M518.95,-2.10 L516.85,0 L518.95,2.10 M521.80,-2.10 L519.70,0 L521.80,2.10 M524.65,-2.10 L522.55,0 L524.65,2.10 M527.50,-2.10 L525.40,0 L527.50,2.10 " fill="none" stroke="#1d62a8" stroke-width="1.15" stroke-linejoin="miter"/></g></svg>
<div class="r" style="left:86.00px;top:307.30px;width:31.60px;height:18.80px;background:#f2f4f7;"></div>
<div class="r" style="left:86.00px;top:307.30px;width:12.05px;height:3.60px;background:#e3e7ec;"></div>
<div class="t" style="left:86.80px;top:309.00px;font-size:3.8px;color:#3e4b5a;font-weight:400;-webkit-text-stroke:0.15px #3e4b5a;">Gap D</div>
<div class="t" style="left:86.50px;top:314.00px;font-size:7.7px;color:#1b2f4b;font-weight:700;letter-spacing:-0.15px;-webkit-text-stroke:0.3px #1b2f4b;">75</div>
<div class="t" style="left:86.60px;top:323.00px;font-size:3.7px;color:#6a7786;font-weight:400;-webkit-text-stroke:0.1px #6a7786;">bar</div>
<svg class="s" style="left:114.00px;top:309.00px;" width="3.6" height="3.6" viewBox="0 0 3.6 3.6"><path d="M0.5,3.10 L2.90,0.7 M0.91,0.6 H3.00 V2.69" fill="none" stroke="#1b2f4b" stroke-width="1.05" stroke-linejoin="miter"/></svg>
<div class="r" style="left:123.40px;top:307.30px;width:31.00px;height:18.80px;background:#f2f4f7;"></div>
<div class="r" style="left:123.40px;top:307.30px;width:12.05px;height:3.60px;background:#e3e7ec;"></div>
<div class="t" style="left:124.20px;top:309.00px;font-size:3.8px;color:#3e4b5a;font-weight:400;-webkit-text-stroke:0.15px #3e4b5a;">Gap C</div>
<div class="t" style="left:123.90px;top:314.00px;font-size:7.7px;color:#1b2f4b;font-weight:700;letter-spacing:-0.15px;-webkit-text-stroke:0.3px #1b2f4b;">75</div>
<div class="t" style="left:124.00px;top:323.00px;font-size:3.7px;color:#6a7786;font-weight:400;-webkit-text-stroke:0.1px #6a7786;">bar</div>
<svg class="s" style="left:150.80px;top:309.00px;" width="3.6" height="3.6" viewBox="0 0 3.6 3.6"><path d="M0.5,3.10 L2.90,0.7 M0.91,0.6 H3.00 V2.69" fill="none" stroke="#1b2f4b" stroke-width="1.05" stroke-linejoin="miter"/></svg>
<div class="r" style="left:160.80px;top:307.30px;width:21.00px;height:18.80px;background:#f2f4f7;"></div>
<div class="r" style="left:160.80px;top:307.30px;width:12.05px;height:3.60px;background:#e3e7ec;"></div>
<div class="t" style="left:161.60px;top:309.00px;font-size:3.8px;color:#3e4b5a;font-weight:400;-webkit-text-stroke:0.15px #3e4b5a;">Gap B</div>
<div class="t" style="left:161.30px;top:314.00px;font-size:7.7px;color:#1b2f4b;font-weight:700;letter-spacing:-0.15px;-webkit-text-stroke:0.3px #1b2f4b;">75</div>
<div class="t" style="left:161.40px;top:323.00px;font-size:3.7px;color:#6a7786;font-weight:400;-webkit-text-stroke:0.1px #6a7786;">bar</div>
<svg class="s" style="left:178.20px;top:309.00px;" width="3.6" height="3.6" viewBox="0 0 3.6 3.6"><path d="M0.5,3.10 L2.90,0.7 M0.91,0.6 H3.00 V2.69" fill="none" stroke="#1b2f4b" stroke-width="1.05" stroke-linejoin="miter"/></svg>
<div class="r" style="left:187.60px;top:307.30px;width:20.60px;height:18.80px;background:#f2f4f7;"></div>
<div class="r" style="left:187.60px;top:307.30px;width:12.05px;height:3.60px;background:#e3e7ec;"></div>
<div class="t" style="left:188.40px;top:309.00px;font-size:3.8px;color:#3e4b5a;font-weight:400;-webkit-text-stroke:0.15px #3e4b5a;">Gap A</div>
<div class="t" style="left:188.10px;top:314.00px;font-size:7.7px;color:#1b2f4b;font-weight:700;letter-spacing:-0.15px;-webkit-text-stroke:0.3px #1b2f4b;">75</div>
<div class="t" style="left:188.20px;top:323.00px;font-size:3.7px;color:#6a7786;font-weight:400;-webkit-text-stroke:0.1px #6a7786;">bar</div>
<svg class="s" style="left:204.60px;top:309.00px;" width="3.6" height="3.6" viewBox="0 0 3.6 3.6"><path d="M0.5,3.10 L2.90,0.7 M0.91,0.6 H3.00 V2.69" fill="none" stroke="#1b2f4b" stroke-width="1.05" stroke-linejoin="miter"/></svg>
<div class="r" style="left:86.00px;top:331.00px;width:31.60px;height:18.80px;background:#f2f4f7;"></div>
<div class="r" style="left:86.00px;top:331.00px;width:24.35px;height:3.60px;background:#e3e7ec;"></div>
<div class="t" style="left:86.80px;top:333.00px;font-size:3.8px;color:#3e4b5a;font-weight:400;-webkit-text-stroke:0.15px #3e4b5a;">T-Off Speed</div>
<div class="t" style="left:86.50px;top:337.00px;font-size:7.7px;color:#1b2f4b;font-weight:700;letter-spacing:-0.15px;-webkit-text-stroke:0.3px #1b2f4b;">75</div>
<div class="t" style="left:86.60px;top:347.00px;font-size:3.7px;color:#6a7786;font-weight:400;-webkit-text-stroke:0.1px #6a7786;">bar</div>
<svg class="s" style="left:114.00px;top:332.70px;" width="3.6" height="3.6" viewBox="0 0 3.6 3.6"><path d="M0.5,3.10 L2.90,0.7 M0.91,0.6 H3.00 V2.69" fill="none" stroke="#1b2f4b" stroke-width="1.05" stroke-linejoin="miter"/></svg>
<div class="r" style="left:123.40px;top:331.00px;width:31.00px;height:18.80px;background:#f2f4f7;"></div>
<div class="r" style="left:123.40px;top:331.00px;width:22.30px;height:3.60px;background:#e3e7ec;"></div>
<div class="t" style="left:124.20px;top:333.00px;font-size:3.8px;color:#3e4b5a;font-weight:400;-webkit-text-stroke:0.15px #3e4b5a;">Line Speed</div>
<div class="t" style="left:123.90px;top:337.00px;font-size:7.7px;color:#1b2f4b;font-weight:700;letter-spacing:-0.15px;-webkit-text-stroke:0.3px #1b2f4b;">75</div>
<div class="t" style="left:124.00px;top:347.00px;font-size:3.7px;color:#6a7786;font-weight:400;-webkit-text-stroke:0.1px #6a7786;">bar</div>
<svg class="s" style="left:150.80px;top:332.70px;" width="3.6" height="3.6" viewBox="0 0 3.6 3.6"><path d="M0.5,3.10 L2.90,0.7 M0.91,0.6 H3.00 V2.69" fill="none" stroke="#1b2f4b" stroke-width="1.05" stroke-linejoin="miter"/></svg>
<div class="r" style="left:267.40px;top:307.30px;width:20.80px;height:18.80px;background:#f2f4f7;"></div>
<div class="r" style="left:267.40px;top:307.30px;width:5.90px;height:3.60px;background:#e3e7ec;"></div>
<div class="t" style="left:268.20px;top:309.00px;font-size:3.8px;color:#3e4b5a;font-weight:400;-webkit-text-stroke:0.15px #3e4b5a;">P6</div>
<div class="t" style="left:267.90px;top:314.00px;font-size:7.7px;color:#1b2f4b;font-weight:700;letter-spacing:-0.15px;-webkit-text-stroke:0.3px #1b2f4b;">75</div>
<div class="t" style="left:268.00px;top:323.00px;font-size:3.7px;color:#6a7786;font-weight:400;-webkit-text-stroke:0.1px #6a7786;">bar</div>
<svg class="s" style="left:284.60px;top:309.00px;" width="3.6" height="3.6" viewBox="0 0 3.6 3.6"><path d="M0.5,3.10 L2.90,0.7 M0.91,0.6 H3.00 V2.69" fill="none" stroke="#1b2f4b" stroke-width="1.05" stroke-linejoin="miter"/></svg>
<div class="r" style="left:267.40px;top:330.80px;width:20.80px;height:18.80px;background:#f2f4f7;"></div>
<div class="r" style="left:267.40px;top:330.80px;width:5.90px;height:3.60px;background:#e3e7ec;"></div>
<div class="t" style="left:268.20px;top:332.00px;font-size:3.8px;color:#3e4b5a;font-weight:400;-webkit-text-stroke:0.15px #3e4b5a;">T2</div>
<div class="t" style="left:267.90px;top:337.00px;font-size:7.7px;color:#1b2f4b;font-weight:700;letter-spacing:-0.15px;-webkit-text-stroke:0.3px #1b2f4b;">280</div>
<div class="t" style="left:268.00px;top:347.00px;font-size:3.7px;color:#6a7786;font-weight:400;-webkit-text-stroke:0.1px #6a7786;">°C</div>
<svg class="s" style="left:284.60px;top:332.50px;" width="3.6" height="3.6" viewBox="0 0 3.6 3.6"><path d="M0.5,3.10 L2.90,0.7 M0.91,0.6 H3.00 V2.69" fill="none" stroke="#1b2f4b" stroke-width="1.05" stroke-linejoin="miter"/></svg>
<div class="r" style="left:320.80px;top:307.30px;width:21.30px;height:18.80px;background:#f2f4f7;"></div>
<div class="r" style="left:320.80px;top:307.30px;width:5.90px;height:3.60px;background:#e3e7ec;"></div>
<div class="t" style="left:321.60px;top:309.00px;font-size:3.8px;color:#3e4b5a;font-weight:400;-webkit-text-stroke:0.15px #3e4b5a;">P4</div>
<div class="t" style="left:321.30px;top:314.00px;font-size:7.7px;color:#1b2f4b;font-weight:700;letter-spacing:-0.15px;-webkit-text-stroke:0.3px #1b2f4b;">75</div>
<div class="t" style="left:321.40px;top:323.00px;font-size:3.7px;color:#6a7786;font-weight:400;-webkit-text-stroke:0.1px #6a7786;">bar</div>
<svg class="s" style="left:338.50px;top:309.00px;" width="3.6" height="3.6" viewBox="0 0 3.6 3.6"><path d="M0.5,3.10 L2.90,0.7 M0.91,0.6 H3.00 V2.69" fill="none" stroke="#1b2f4b" stroke-width="1.05" stroke-linejoin="miter"/></svg>
<div class="r" style="left:320.80px;top:330.80px;width:21.30px;height:18.80px;background:#f2f4f7;"></div>
<div class="r" style="left:320.80px;top:330.80px;width:5.90px;height:3.60px;background:#e3e7ec;"></div>
<div class="t" style="left:321.60px;top:332.00px;font-size:3.8px;color:#3e4b5a;font-weight:400;-webkit-text-stroke:0.15px #3e4b5a;">T2</div>
<div class="t" style="left:321.30px;top:337.00px;font-size:7.7px;color:#1b2f4b;font-weight:700;letter-spacing:-0.15px;-webkit-text-stroke:0.3px #1b2f4b;">280</div>
<div class="t" style="left:321.40px;top:347.00px;font-size:3.7px;color:#6a7786;font-weight:400;-webkit-text-stroke:0.1px #6a7786;">°C</div>
<svg class="s" style="left:338.50px;top:332.50px;" width="3.6" height="3.6" viewBox="0 0 3.6 3.6"><path d="M0.5,3.10 L2.90,0.7 M0.91,0.6 H3.00 V2.69" fill="none" stroke="#1b2f4b" stroke-width="1.05" stroke-linejoin="miter"/></svg>
<div class="r" style="left:440.00px;top:307.30px;width:20.60px;height:18.80px;background:#f2f4f7;"></div>
<div class="r" style="left:440.00px;top:307.30px;width:5.90px;height:3.60px;background:#e3e7ec;"></div>
<div class="t" style="left:440.80px;top:309.00px;font-size:3.8px;color:#3e4b5a;font-weight:400;-webkit-text-stroke:0.15px #3e4b5a;">P3</div>
<div class="t" style="left:440.50px;top:314.00px;font-size:7.7px;color:#1b2f4b;font-weight:700;letter-spacing:-0.15px;-webkit-text-stroke:0.3px #1b2f4b;">75</div>
<div class="t" style="left:440.60px;top:323.00px;font-size:3.7px;color:#6a7786;font-weight:400;-webkit-text-stroke:0.1px #6a7786;">bar</div>
<svg class="s" style="left:457.00px;top:309.00px;" width="3.6" height="3.6" viewBox="0 0 3.6 3.6"><path d="M0.5,3.10 L2.90,0.7 M0.91,0.6 H3.00 V2.69" fill="none" stroke="#1b2f4b" stroke-width="1.05" stroke-linejoin="miter"/></svg>
<div class="r" style="left:556.20px;top:307.30px;width:20.80px;height:18.80px;background:#f2f4f7;"></div>
<div class="r" style="left:556.20px;top:307.30px;width:5.90px;height:3.60px;background:#e3e7ec;"></div>
<div class="t" style="left:557.00px;top:309.00px;font-size:3.8px;color:#3e4b5a;font-weight:400;-webkit-text-stroke:0.15px #3e4b5a;">P2</div>
<div class="t" style="left:556.70px;top:314.00px;font-size:7.7px;color:#1b2f4b;font-weight:700;letter-spacing:-0.15px;-webkit-text-stroke:0.3px #1b2f4b;">75</div>
<div class="t" style="left:556.80px;top:323.00px;font-size:3.7px;color:#6a7786;font-weight:400;-webkit-text-stroke:0.1px #6a7786;">bar</div>
<svg class="s" style="left:573.40px;top:309.00px;" width="3.6" height="3.6" viewBox="0 0 3.6 3.6"><path d="M0.5,3.10 L2.90,0.7 M0.91,0.6 H3.00 V2.69" fill="none" stroke="#1b2f4b" stroke-width="1.05" stroke-linejoin="miter"/></svg>
<div class="r" style="left:579.70px;top:307.30px;width:20.60px;height:18.80px;background:#f2f4f7;"></div>
<div class="r" style="left:579.70px;top:307.30px;width:5.90px;height:3.60px;background:#e3e7ec;"></div>
<div class="t" style="left:580.50px;top:309.00px;font-size:3.8px;color:#3e4b5a;font-weight:400;-webkit-text-stroke:0.15px #3e4b5a;">P1</div>
<div class="t" style="left:580.20px;top:314.00px;font-size:7.7px;color:#1b2f4b;font-weight:700;letter-spacing:-0.15px;-webkit-text-stroke:0.3px #1b2f4b;">75</div>
<div class="t" style="left:580.30px;top:323.00px;font-size:3.7px;color:#6a7786;font-weight:400;-webkit-text-stroke:0.1px #6a7786;">bar</div>
<svg class="s" style="left:596.70px;top:309.00px;" width="3.6" height="3.6" viewBox="0 0 3.6 3.6"><path d="M0.5,3.10 L2.90,0.7 M0.91,0.6 H3.00 V2.69" fill="none" stroke="#1b2f4b" stroke-width="1.05" stroke-linejoin="miter"/></svg>
<div class="r" style="left:556.20px;top:330.80px;width:20.80px;height:18.80px;background:#f2f4f7;"></div>
<div class="r" style="left:556.20px;top:330.80px;width:5.90px;height:3.60px;background:#e3e7ec;"></div>
<div class="t" style="left:557.00px;top:332.00px;font-size:3.8px;color:#3e4b5a;font-weight:400;-webkit-text-stroke:0.15px #3e4b5a;">T1</div>
<div class="t" style="left:556.70px;top:337.00px;font-size:7.7px;color:#1b2f4b;font-weight:700;letter-spacing:-0.15px;-webkit-text-stroke:0.3px #1b2f4b;">280</div>
<div class="t" style="left:556.80px;top:347.00px;font-size:3.7px;color:#6a7786;font-weight:400;-webkit-text-stroke:0.1px #6a7786;">°C</div>
<svg class="s" style="left:573.40px;top:332.50px;" width="3.6" height="3.6" viewBox="0 0 3.6 3.6"><path d="M0.5,3.10 L2.90,0.7 M0.91,0.6 H3.00 V2.69" fill="none" stroke="#1b2f4b" stroke-width="1.05" stroke-linejoin="miter"/></svg>
<div class="r" style="left:63.00px;top:370.90px;width:642.40px;height:27.10px;background:linear-gradient(90deg,#0b4a8c,#0b4886 50%,#0b4f95 80%,#0b58a2);"></div>
<div class="r" style="left:63.00px;top:396.40px;width:642.40px;height:1.60px;background:rgba(5,30,60,0.35);"></div>
<div class="r" style="left:63.20px;top:369.90px;width:42.50px;height:26.50px;background:linear-gradient(180deg,#0c66bb,#0b5eae);"></div>
<div class="t" style="left:84.45px;top:389.00px;font-size:3.7px;color:#eef6fe;font-weight:700;transform:translateX(-50%);transform-origin:0 0;letter-spacing:0.05px;-webkit-text-stroke:0.15px #eef6fe;">FAVORITEN</div>
<svg class="s" style="left:80.05px;top:375.80px;" width="8.8" height="8.2" viewBox="0 0 8.8 8.2"><path d="M2.3,0.5 H8.3 V6 L6.3,8 H0.5 V2.3 Z" fill="none" stroke="#d8ecfd" stroke-width="0.95"/><path d="M4.5,2.1 L5.15,3.6 L6.7,3.7 L5.5,4.7 L5.9,6.3 L4.5,5.4 L3.1,6.3 L3.5,4.7 L2.3,3.7 L3.85,3.6 Z" fill="none" stroke="#d8ecfd" stroke-width="0.7"/></svg>
<div class="r" style="left:126.40px;top:369.90px;width:41.60px;height:26.50px;background:linear-gradient(180deg,#0c66bb,#0b5eae);"></div>
<div class="t" style="left:147.20px;top:389.00px;font-size:3.7px;color:#eef6fe;font-weight:700;transform:translateX(-50%);transform-origin:0 0;letter-spacing:0.05px;-webkit-text-stroke:0.15px #eef6fe;">RAW MATERIAL</div>
<svg class="s" style="left:142.80px;top:375.80px;" width="8.8" height="8.2" viewBox="0 0 8.8 8.2"><path d="M4.4,0.9 H7.9 V5.8 L6.4,7.6 H4.4" fill="none" stroke="#d8ecfd" stroke-width="1"/><path d="M0.8,3 V4.3 H5.4 M3.9,2.6 L5.6,4.3 L3.9,6" fill="none" stroke="#d8ecfd" stroke-width="1"/></svg>
<div class="r" style="left:177.20px;top:369.90px;width:42.00px;height:26.50px;background:linear-gradient(180deg,#0c66bb,#0b5eae);"></div>
<div class="t" style="left:198.20px;top:389.00px;font-size:3.7px;color:#eef6fe;font-weight:700;transform:translateX(-50%);transform-origin:0 0;letter-spacing:0.05px;-webkit-text-stroke:0.15px #eef6fe;">PLASTIFICATION</div>
<svg class="s" style="left:193.80px;top:375.80px;" width="8.8" height="8.2" viewBox="0 0 8.8 8.2"><path d="M2.4,0.9 H8.4 M0.6,7.6 H6.2" stroke="#d8ecfd" stroke-width="0.9"/><path d="M2.8,2.6 H8.4 V5.8 H0.6 Z" fill="#d8ecfd"/><rect x="4.6" y="3.4" width="2.8" height="1.6" fill="#2b5f94"/></svg>
<div class="r" style="left:219.20px;top:369.90px;width:37.50px;height:26.50px;background:#0b5cab;"></div>
<div class="r" style="left:219.50px;top:371.90px;width:36.90px;height:22.10px;background:#0d6bc6;"></div>
<div class="t" style="left:237.95px;top:389.00px;font-size:3.7px;color:#eef6fe;font-weight:700;transform:translateX(-50%);transform-origin:0 0;letter-spacing:0.05px;-webkit-text-stroke:0.15px #eef6fe;">ZE EXTRUDER</div>
<svg class="s" style="left:233.55px;top:375.80px;" width="8.8" height="8.2" viewBox="0 0 8.8 8.2"><path d="M0.8,2.4 L2.3,0.9 L3.8,2.4 L5.3,0.9 L6.8,2.4 L8.2,0.9" fill="none" stroke="#d8ecfd" stroke-width="0.9"/><rect x="0.6" y="3.3" width="7.8" height="1.6" fill="#d8ecfd"/><path d="M0.8,7.4 L2.3,5.9 L3.8,7.4 L5.3,5.9 L6.8,7.4 L8.2,5.9" fill="none" stroke="#d8ecfd" stroke-width="0.9"/></svg>
<div class="r" style="left:256.70px;top:369.90px;width:37.50px;height:26.50px;background:#0b5cab;"></div>
<div class="r" style="left:257.00px;top:371.90px;width:36.90px;height:22.10px;background:#0d6bc6;"></div>
<div class="t" style="left:275.45px;top:389.00px;font-size:3.7px;color:#eef6fe;font-weight:700;transform:translateX(-50%);transform-origin:0 0;letter-spacing:0.05px;-webkit-text-stroke:0.15px #eef6fe;">FEEDING</div>
<svg class="s" style="left:271.05px;top:375.80px;" width="8.8" height="8.2" viewBox="0 0 8.8 8.2"><path d="M1.6,0.9 H7.2 L8.2,3.2 L5.6,7.6 H3.2 L0.6,3.2 Z" fill="none" stroke="#d8ecfd" stroke-width="0.95" stroke-linejoin="round"/><circle cx="4.4" cy="3.4" r="0.5" fill="#d8ecfd"/></svg>
<div class="r" style="left:294.20px;top:369.90px;width:38.00px;height:26.50px;background:#0b5cab;"></div>
<div class="r" style="left:294.50px;top:371.90px;width:37.40px;height:22.10px;background:#0d6bc6;"></div>
<div class="t" style="left:313.20px;top:389.00px;font-size:3.7px;color:#eef6fe;font-weight:700;transform:translateX(-50%);transform-origin:0 0;letter-spacing:0.05px;-webkit-text-stroke:0.15px #eef6fe;">BLOWING AGENT</div>
<svg class="s" style="left:308.80px;top:375.80px;" width="8.8" height="8.2" viewBox="0 0 8.8 8.2"><path d="M2.3,0.5 H8.3 V6 L6.3,8 H0.5 V2.3 Z" fill="none" stroke="#d8ecfd" stroke-width="0.95"/><path d="M3,2.4 H4.6 A1.8,1.8 0 0 1 4.6,6 H3 Z" fill="none" stroke="#d8ecfd" stroke-width="0.8"/></svg>
<div class="r" style="left:343.00px;top:369.90px;width:41.70px;height:26.50px;background:linear-gradient(180deg,#0c66bb,#0b5eae);"></div>
<div class="t" style="left:363.85px;top:389.00px;font-size:3.7px;color:#eef6fe;font-weight:700;transform:translateX(-50%);transform-origin:0 0;letter-spacing:0.05px;-webkit-text-stroke:0.15px #eef6fe;">MELT COOLING</div>
<svg class="s" style="left:359.45px;top:375.80px;" width="8.8" height="8.2" viewBox="0 0 8.8 8.2"><path d="M0.6,0.9 H5.6 M0.6,7.5 H5.6" stroke="#d8ecfd" stroke-width="0.9"/><rect x="0.6" y="2.4" width="5" height="3.6" fill="#d8ecfd"/><rect x="1.8" y="3.4" width="1.8" height="1.6" fill="#2b5f94"/><path d="M6.4,4.2 H8.8 M7.6,3 V5.4" stroke="#d8ecfd" stroke-width="0.9"/></svg>
<div class="r" style="left:384.70px;top:369.90px;width:37.70px;height:26.50px;background:#0b5cab;"></div>
<div class="r" style="left:385.00px;top:371.90px;width:37.10px;height:22.10px;background:#0d6bc6;"></div>
<div class="t" style="left:403.55px;top:389.00px;font-size:3.7px;color:#eef6fe;font-weight:700;transform:translateX(-50%);transform-origin:0 0;letter-spacing:0.05px;-webkit-text-stroke:0.15px #eef6fe;">KE EXTRUDER</div>
<svg class="s" style="left:399.15px;top:375.80px;" width="8.8" height="8.2" viewBox="0 0 8.8 8.2"><path d="M0.8,2.4 L2.3,0.9 L3.8,2.4 L5.3,0.9 L6.8,2.4 L8.2,0.9" fill="none" stroke="#d8ecfd" stroke-width="0.9"/><rect x="0.6" y="3.3" width="7.8" height="1.6" fill="#d8ecfd"/><path d="M0.8,7.4 L2.3,5.9 L3.8,7.4 L5.3,5.9 L6.8,7.4 L8.2,5.9" fill="none" stroke="#d8ecfd" stroke-width="0.9"/></svg>
<div class="r" style="left:422.40px;top:369.90px;width:39.10px;height:26.50px;background:#0b5cab;"></div>
<div class="r" style="left:422.70px;top:371.90px;width:38.50px;height:22.10px;background:#0d6bc6;"></div>
<div class="t" style="left:441.95px;top:389.00px;font-size:3.7px;color:#eef6fe;font-weight:700;transform:translateX(-50%);transform-origin:0 0;letter-spacing:0.05px;-webkit-text-stroke:0.15px #eef6fe;">FEEDING</div>
<svg class="s" style="left:437.55px;top:375.80px;" width="8.8" height="8.2" viewBox="0 0 8.8 8.2"><path d="M1.6,0.9 H7.2 L8.2,3.2 L5.6,7.6 H3.2 L0.6,3.2 Z" fill="none" stroke="#d8ecfd" stroke-width="0.95" stroke-linejoin="round"/><circle cx="4.4" cy="3.4" r="0.5" fill="#d8ecfd"/></svg>
<div class="r" style="left:470.60px;top:369.90px;width:43.00px;height:26.50px;background:linear-gradient(180deg,#0c66bb,#0b5eae);"></div>
<div class="t" style="left:492.10px;top:389.00px;font-size:3.7px;color:#eef6fe;font-weight:700;transform:translateX(-50%);transform-origin:0 0;letter-spacing:0.05px;-webkit-text-stroke:0.15px #eef6fe;">SHAPING</div>
<svg class="s" style="left:487.70px;top:375.80px;" width="8.8" height="8.2" viewBox="0 0 8.8 8.2"><path d="M2.3,0.5 H8.3 V6 L6.3,8 H0.5 V2.3 Z" fill="none" stroke="#d8ecfd" stroke-width="0.95"/><rect x="0.5" y="3" width="5.6" height="2.6" fill="#d8ecfd"/><rect x="2" y="3.6" width="3" height="1.4" fill="#2b5f94"/></svg>
<div class="r" style="left:513.90px;top:369.90px;width:37.80px;height:26.50px;background:#0b5cab;"></div>
<div class="r" style="left:514.20px;top:371.90px;width:37.20px;height:22.10px;background:#0d6bc6;"></div>
<div class="t" style="left:532.80px;top:389.00px;font-size:3.7px;color:#eef6fe;font-weight:700;transform:translateX(-50%);transform-origin:0 0;letter-spacing:0.05px;-webkit-text-stroke:0.15px #eef6fe;">HEAD</div>
<svg class="s" style="left:528.40px;top:375.80px;" width="8.8" height="8.2" viewBox="0 0 8.8 8.2"><path d="M4.4,0.3 L8.3,4.2 L4.4,8.1 L0.5,4.2 Z" fill="none" stroke="#d8ecfd" stroke-width="0.9"/><circle cx="4.4" cy="4.2" r="1.5" fill="#d8ecfd"/><path d="M4.4,0.3 V8.1 M0.5,4.2 H8.3" stroke="#d8ecfd" stroke-width="0.6"/></svg>
<div class="r" style="left:551.70px;top:369.90px;width:37.70px;height:26.50px;background:#0b5cab;"></div>
<div class="r" style="left:552.00px;top:371.90px;width:37.10px;height:22.10px;background:#0d6bc6;"></div>
<div class="t" style="left:570.55px;top:389.00px;font-size:3.7px;color:#eef6fe;font-weight:700;transform:translateX(-50%);transform-origin:0 0;letter-spacing:0.05px;-webkit-text-stroke:0.15px #eef6fe;">CALIBRATOR</div>
<svg class="s" style="left:566.15px;top:375.80px;" width="8.8" height="8.2" viewBox="0 0 8.8 8.2"><path d="M2.3,0.5 H8.3 V6 L6.3,8 H0.5 V2.3 Z" fill="none" stroke="#d8ecfd" stroke-width="0.95"/><path d="M0.5,2.6 H6.1 V8 M6.1,2.6 L8.2,0.6" fill="none" stroke="#d8ecfd" stroke-width="0.75"/></svg>
<div class="r" style="left:599.80px;top:369.90px;width:41.70px;height:26.50px;background:linear-gradient(180deg,#0c66bb,#0b5eae);"></div>
<div class="t" style="left:620.65px;top:389.00px;font-size:3.7px;color:#eef6fe;font-weight:700;transform:translateX(-50%);transform-origin:0 0;letter-spacing:0.05px;-webkit-text-stroke:0.15px #eef6fe;">FINISHING</div>
<svg class="s" style="left:616.25px;top:375.80px;" width="8.8" height="8.2" viewBox="0 0 8.8 8.2"><path d="M4,0.9 H1.9 L0.6,2.4 V7.6 H4" fill="none" stroke="#d8ecfd" stroke-width="1"/><path d="M3.4,4.3 H7.6 M5.9,2.5 L7.7,4.3 L5.9,6.1" fill="none" stroke="#d8ecfd" stroke-width="1"/></svg>
<div class="r" style="left:662.30px;top:369.90px;width:43.10px;height:26.50px;background:linear-gradient(180deg,#06172c,#0a2a50 70%,#0c3462);"></div>
<div class="t" style="left:683.85px;top:389.00px;font-size:3.7px;color:#eef6fe;font-weight:700;transform:translateX(-50%);transform-origin:0 0;letter-spacing:0.05px;-webkit-text-stroke:0.15px #eef6fe;">DASHBOARD</div>
<svg class="s" style="left:679.45px;top:375.80px;" width="8.8" height="8.2" viewBox="0 0 8.8 8.2"><path d="M2,0.3 H8.2 V6.2 L6.3,8.1 H0.3 V2 Z" fill="#dfe8f2"/><rect x="1.8" y="1.8" width="2.2" height="2.2" fill="#0a2240"/><rect x="4.8" y="1.8" width="2.2" height="2.2" fill="#0a2240"/><rect x="1.8" y="4.6" width="2.2" height="2.2" fill="#0a2240"/><rect x="4.8" y="4.6" width="2.2" height="2.2" fill="#0a2240"/></svg>
<div class="r" style="left:662.30px;top:396.40px;width:43.10px;height:1.60px;background:#0b3260;"></div>
<svg class="s" style="left:216.80px;top:382.40px;" width="1.6" height="1.8" viewBox="0 0 1.6 1.8"><path d="M0,0 L1.6,0.9 L0,1.8 Z" fill="#cfe6fa"/></svg>
<svg class="s" style="left:381.80px;top:382.40px;" width="1.6" height="1.8" viewBox="0 0 1.6 1.8"><path d="M0,0 L1.6,0.9 L0,1.8 Z" fill="#cfe6fa"/></svg>
<svg class="s" style="left:511.40px;top:382.40px;" width="1.6" height="1.8" viewBox="0 0 1.6 1.8"><path d="M0,0 L1.6,0.9 L0,1.8 Z" fill="#cfe6fa"/></svg>
<div class="r" style="left:0;top:0;width:768px;height:432px;background:linear-gradient(180deg,rgb(23,23,23) 0%,rgb(13,13,13) 40%,rgb(0,0,0) 92%);mix-blend-mode:screen;clip-path:polygon(514.8px 0,768px 0,768px 432px,721.3px 432px);pointer-events:none"></div>
</body></html>
